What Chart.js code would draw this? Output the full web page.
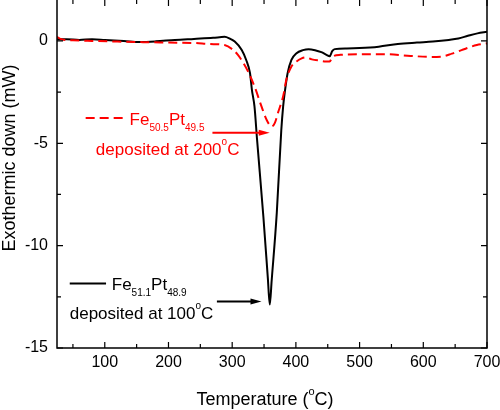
<!DOCTYPE html>
<html>
<head>
<meta charset="utf-8">
<script src="https://cdn.jsdelivr.net/npm/chart.js@4"></script>
<style>
  html, body { margin: 0; padding: 0; background: #fff; }
  #wrap { width: 500px; height: 410px; }
</style>
</head>
<body>
<div id="wrap"><canvas id="dscChart" width="500" height="410"></canvas></div>
<script>
// Fe51.1Pt48.9 deposited at 100C (black, solid)
const blackTemp = [25, 40, 60, 80, 100, 130, 155, 180, 210, 240, 270, 288, 296, 304, 315, 322, 328, 331, 335, 339,
  349, 356, 359, 362, 370, 377, 380, 383, 387, 393, 401, 411, 420, 430, 440, 448, 453, 457, 461, 480,
  500, 530, 560, 590, 615, 640, 655, 670, 685, 700];
const blackHeat = [0.08, 0.08, 0.05, 0.08, 0.05, 0.0, -0.05, -0.02, 0.05, 0.1, 0.15, 0.2, 0.12, -0.03, -0.44, -0.93, -1.58, -2.4, -3.2, -4.8,
  -8.6, -11.6, -12.88, -11.7, -8.4, -4.4, -3.2, -2.4, -1.58, -0.93, -0.6, -0.45, -0.4, -0.45, -0.55, -0.68, -0.75, -0.5, -0.4, -0.37,
  -0.35, -0.28, -0.15, -0.08, -0.03, 0.05, 0.12, 0.25, 0.37, 0.45];

// Fe50.5Pt49.5 deposited at 200C (red, dashed)
const redTemp = [25, 32, 50, 80, 120, 160, 200, 240, 265, 288, 300, 309, 317, 325, 336, 346, 354, 362, 367, 372,
  380, 385, 393, 401, 409, 415, 425, 437, 447, 453, 458, 470, 500, 540, 580, 610, 630, 645, 660, 684, 700];
const redHeat = [0.2, 0.08, 0.03, 0.0, -0.03, -0.06, -0.08, -0.1, -0.15, -0.2, -0.4, -0.68, -1.05, -1.5, -2.3, -3.2, -3.85, -4.18, -4.0, -3.5,
  -2.7, -1.9, -1.25, -1.0, -0.85, -0.8, -0.9, -0.96, -1.0, -1.0, -0.76, -0.68, -0.65, -0.65, -0.73, -0.78, -0.76, -0.62, -0.45, -0.2, -0.12];

// tick labels
const xTicks = [100, 200, 300, 400, 500, 600, 700];
const xMinorTicks = [50, 150, 250, 350, 450, 550, 650];
const yTicks = [0, -5, -10, -15];
const yMinorTicks = [-2.5, -7.5, -12.5];

const FONT = '"Liberation Sans", Arial, sans-serif';

// draw text made of normal / sub / sup pieces
function richWidth(ctx, parts, size) {
  let w = 0;
  for (const [s, kind] of parts) {
    const fs = kind ? Math.round(size * 0.6) : size;
    ctx.font = fs + "px " + FONT;
    w += ctx.measureText(s).width;
  }
  return w;
}
function drawRich(ctx, x, y, parts, size, color) {
  ctx.fillStyle = color;
  ctx.textAlign = "left";
  ctx.textBaseline = "alphabetic";
  for (const [s, kind] of parts) {
    let fs = size, dy = 0;
    if (kind === "sub") { fs = Math.round(size * 0.6); dy = size * 0.38; }
    if (kind === "sup") { fs = Math.round(size * 0.6); dy = -size * 0.58; }
    ctx.font = fs + "px " + FONT;
    ctx.fillText(s, x, y + dy);
    x += ctx.measureText(s).width;
  }
}
function drawArrow(ctx, x1, x2, y, color) {
  ctx.strokeStyle = color;
  ctx.fillStyle = color;
  ctx.lineWidth = 2;
  ctx.setLineDash([]);
  ctx.beginPath();
  ctx.moveTo(x1, y);
  ctx.lineTo(x2 - 9, y);
  ctx.stroke();
  ctx.beginPath();
  ctx.moveTo(x2, y);
  ctx.lineTo(x2 - 11, y - 3);
  ctx.lineTo(x2 - 11, y + 3);
  ctx.closePath();
  ctx.fill();
}

// frame, inward ticks, labels and titles
const framePlugin = {
  id: "frame",
  afterDatasetsDraw(chart) {
    const ctx = chart.ctx;
    const a = chart.chartArea;
    const xs = chart.scales.x, ys = chart.scales.y;
    ctx.save();

    // frame (top edge sits off the canvas)
    ctx.strokeStyle = "#000";
    ctx.lineWidth = 1.5;
    ctx.setLineDash([]);
    ctx.beginPath();
    ctx.moveTo(a.left, a.top);
    ctx.lineTo(a.left, a.bottom);
    ctx.lineTo(a.right, a.bottom);
    ctx.lineTo(a.right, a.top);
    ctx.stroke();

    // ticks
    ctx.lineWidth = 1.2;
    ctx.beginPath();
    const xt = (v, len) => {
      const px = xs.getPixelForValue(v);
      ctx.moveTo(px, a.bottom); ctx.lineTo(px, a.bottom - len);
      ctx.moveTo(px, a.top); ctx.lineTo(px, a.top + len);
    };
    const yt = (v, len) => {
      const py = ys.getPixelForValue(v);
      ctx.moveTo(a.left, py); ctx.lineTo(a.left + len, py);
      ctx.moveTo(a.right, py); ctx.lineTo(a.right - len, py);
    };
    xTicks.forEach(v => xt(v, 6));
    xMinorTicks.forEach(v => xt(v, 4));
    yTicks.forEach(v => yt(v, 6));
    yMinorTicks.forEach(v => yt(v, 4));
    ctx.stroke();

    const X = v => xs.getPixelForValue(v);
    const Y = v => ys.getPixelForValue(v);

    // red annotation
    ctx.strokeStyle = "#ff0000";
    ctx.lineWidth = 2;
    ctx.setLineDash([9, 5]);
    ctx.beginPath();
    ctx.moveTo(X(70), Y(-3.76));
    ctx.lineTo(X(131), Y(-3.76));
    ctx.stroke();
    ctx.setLineDash([]);
    drawRich(ctx, X(139), Y(-4.1), [["Fe"], ["50.5", "sub"], ["Pt"], ["49.5", "sub"]], 17, "#ff0000");
    drawRich(ctx, X(86), Y(-5.56), [["deposited at 200"], ["o", "sup"], ["C"]], 17, "#ff0000");
    drawArrow(ctx, X(269), X(359), Y(-4.49), "#ff0000");

    // black annotation
    ctx.strokeStyle = "#000";
    ctx.lineWidth = 2;
    ctx.beginPath();
    ctx.moveTo(X(45), Y(-11.85));
    ctx.lineTo(X(102), Y(-11.85));
    ctx.stroke();
    drawRich(ctx, X(111), Y(-12.15), [["Fe"], ["51.1", "sub"], ["Pt"], ["48.9", "sub"]], 17, "#000");
    drawRich(ctx, X(45), Y(-13.56), [["deposited at 100"], ["o", "sup"], ["C"]], 17, "#000");
    drawArrow(ctx, X(276), X(346), Y(-12.73), "#000");

    // axis titles
    const xTitle = [["Temperature ("], ["o", "sup"], ["C)"]];
    const wx = richWidth(ctx, xTitle, 18);
    drawRich(ctx, 265 - wx / 2, 405, xTitle, 18, "#000");

    const yTitle = [["Exothermic down (mW)"]];
    const wy = richWidth(ctx, yTitle, 18);
    ctx.translate(15, 158);
    ctx.rotate(-Math.PI / 2);
    drawRich(ctx, -wy / 2, 0, yTitle, 18, "#000");

    ctx.restore();
  }
};

new Chart(document.getElementById("dscChart"), {
  type: "line",
  data: {
    datasets: [
      {
        label: "Fe50.5Pt49.5 deposited at 200C",
        data: redTemp.map((t, i) => ({ x: t, y: redHeat[i] })),
        borderColor: "#ff0000",
        borderWidth: 2,
        borderDash: [9, 5],
        pointRadius: 0,
        cubicInterpolationMode: "monotone",
        fill: false,
      },
      {
        label: "Fe51.1Pt48.9 deposited at 100C",
        data: blackTemp.map((t, i) => ({ x: t, y: blackHeat[i] })),
        borderColor: "#000000",
        borderWidth: 2,
        pointRadius: 0,
        cubicInterpolationMode: "monotone",
        fill: false,
      },
    ],
  },
  options: {
    responsive: false,
    animation: false,
    layout: { padding: { left: 0, right: 13, top: 0, bottom: 0 } },
    plugins: { legend: { display: false }, tooltip: { enabled: false } },
    scales: {
      x: {
        type: "linear",
        min: 25,
        max: 700,
        grid: { display: false, drawTicks: false },
        border: { display: false },
        ticks: { color: "#000", font: { size: 16, family: FONT }, padding: 5, maxRotation: 0 },
        afterBuildTicks: (scale) => { scale.ticks = xTicks.map(v => ({ value: v })); },
        afterFit: (scale) => { scale.height = 62; scale.paddingLeft = 0; scale.paddingRight = 0; },
      },
      y: {
        type: "linear",
        min: -15,
        max: 2,
        grid: { display: false, drawTicks: false },
        border: { display: false },
        ticks: { color: "#000", font: { size: 16, family: FONT }, padding: 9 },
        afterBuildTicks: (scale) => { scale.ticks = yTicks.map(v => ({ value: v })); },
        afterFit: (scale) => { scale.width = 57; scale.paddingTop = 0; scale.paddingBottom = 0; },
      },
    },
  },
  plugins: [framePlugin],
});
</script>
</body>
</html>
